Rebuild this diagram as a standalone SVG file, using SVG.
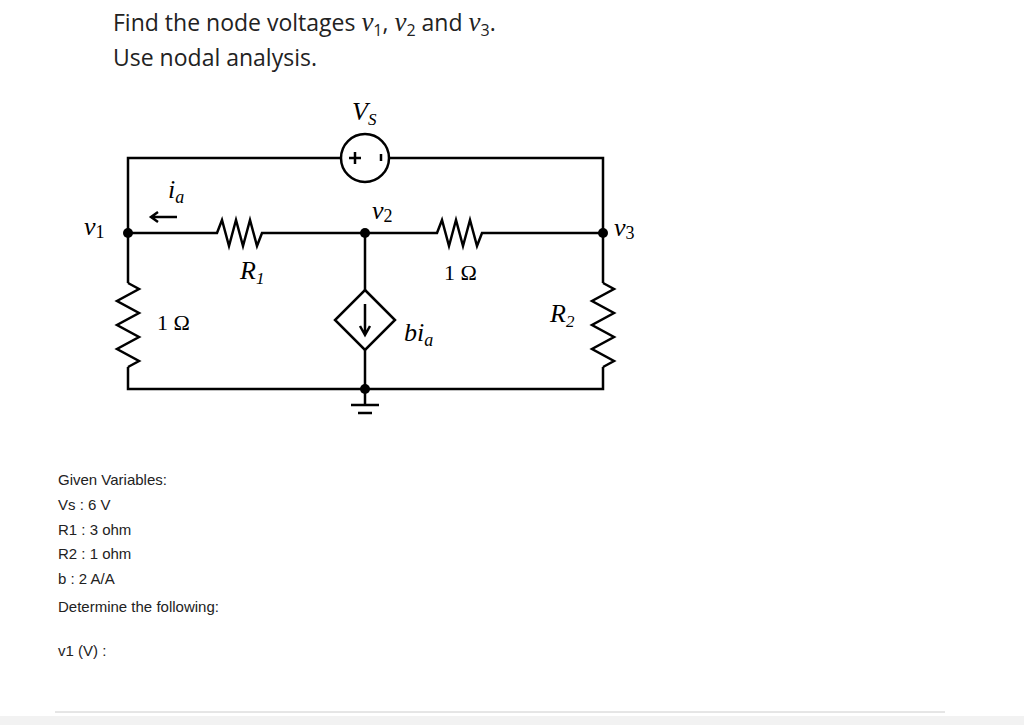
<svg xmlns="http://www.w3.org/2000/svg" width="1024" height="725" viewBox="0 0 1024 725">
<style>
.w{stroke:#000;stroke-width:2.5;fill:none;stroke-linejoin:miter}
.m{font-family:"Liberation Serif",serif;font-style:italic;font-size:26px}
.s{font-family:"Liberation Serif",serif;font-size:22px}
.t{font-family:"Open Sans",sans-serif;font-size:23px;fill:#222}
.g{font-family:"Liberation Sans",sans-serif;font-size:15px;fill:#222}
</style>
<rect width="1024" height="725" fill="#fff"/>
<text class="t" x="113" y="31">Find the node voltages <tspan font-family="Liberation Serif" font-style="italic" font-size="27">v</tspan><tspan font-size="16" dy="5">1</tspan><tspan dy="-5">, </tspan><tspan font-family="Liberation Serif" font-style="italic" font-size="27">v</tspan><tspan font-size="16" dy="5">2</tspan><tspan dy="-5"> and </tspan><tspan font-family="Liberation Serif" font-style="italic" font-size="27">v</tspan><tspan font-size="16" dy="5">3</tspan><tspan dy="-5">.</tspan></text>
<text class="t" x="113" y="66">Use nodal analysis.</text>
<g id="connectors">
<path class="w" d="M341,158H128V283M128,367V389H603V367M603,283V158H389"/>
<path class="w" d="M128,233H217l5,-13l7,26l7,-26l7,26l7,-26l7,26l5,-13H437l5,-13l7,26l7,-26l7,26l7,-26l7,26l5,-13H603"/>
<path class="w" d="M128,283l11,6l-22,12l22,12l-22,12l22,12l-22,12l22,12l-11,6"/>
<path class="w" d="M603,283l11,6l-22,12l22,12l-22,12l22,12l-22,12l22,12l-11,6"/>
<path class="w" d="M365,233V290M365,350V405"/>
<path class="w" d="M351,405H379M358,413H372"/>
<path class="w" d="M177,217H151M158,212l-7,5l7,5"/>
</g>
<g id="Vs"><circle class="w" cx="365" cy="158" r="24"/><path class="w" d="M349,158h12M355,152v12M381,154v7"/></g>
<g id="dep"><path class="w" d="M365,290l30,30l-30,30l-30,-30z"/><path class="w" d="M365,304V333M360,326l5,9l5,-9"/></g>
<g id="dots"><circle cx="128" cy="233" r="5"/><circle cx="365" cy="233" r="5"/><circle cx="603" cy="233" r="5"/><circle cx="365" cy="389" r="5"/></g>
<g id="labels">
<text class="m" x="352" y="120">V<tspan font-size="17" dy="5">S</tspan></text>
<text class="m" x="168" y="198">i<tspan font-size="18" dy="5">a</tspan></text>
<text class="m" x="84" y="235">v<tspan font-style="normal" font-size="18" dy="3">1</tspan></text>
<text class="m" x="372" y="219">v<tspan font-style="normal" font-size="18" dy="3">2</tspan></text>
<text class="m" x="614" y="236">v<tspan font-style="normal" font-size="18" dy="3">3</tspan></text>
<text class="m" x="240" y="279">R<tspan font-size="17" dy="5">1</tspan></text>
<text class="s" x="444" y="280">1 Ω</text>
<text class="s" x="157" y="330">1 Ω</text>
<text class="m" x="550" y="322">R<tspan font-size="17" dy="5">2</tspan></text>
<text class="m" x="404" y="341">bi<tspan font-size="18" dy="5">a</tspan></text>
</g>
<g class="g">
<text x="58" y="485">Given Variables:</text>
<text x="58" y="510">Vs : 6 V</text>
<text x="58" y="535">R1 : 3 ohm</text>
<text x="58" y="559">R2 : 1 ohm</text>
<text x="58" y="584">b : 2 A/A</text>
<text x="58" y="612">Determine the following:</text>
<text x="58" y="656">v1 (V) :</text>
</g>
<line x1="55" y1="712" x2="945" y2="712" stroke="#ccc"/>
<rect x="0" y="716" width="1024" height="9" fill="#f2f2f2"/>
</svg>
